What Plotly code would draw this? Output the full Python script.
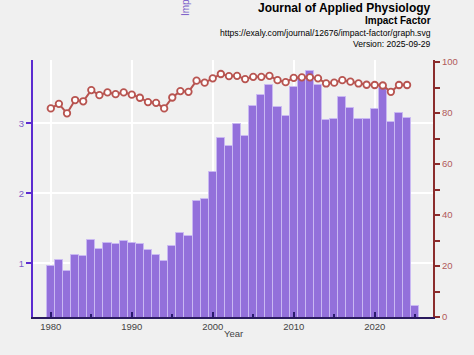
import plotly.graph_objects as go

years = list(range(1980, 2026))
impact_factor = [0.96, 1.05, 0.89, 1.12, 1.10, 1.34, 1.21, 1.29, 1.28, 1.32,
                 1.29, 1.27, 1.19, 1.12, 1.04, 1.25, 1.43, 1.39, 1.89, 1.92,
                 2.31, 2.79, 2.67, 2.99, 2.82, 3.24, 3.41, 3.55, 3.23, 3.10,
                 3.52, 3.64, 3.75, 3.54, 3.05, 3.06, 3.37, 3.22, 3.06, 3.06,
                 3.21, 3.50, 3.02, 3.14, 3.07, 0.39]
pct_years = list(range(1980, 2025))
percentile = [81.8, 83.6, 79.9, 85.1, 84.6, 89.0, 87.0, 88.1, 87.4, 88.1,
              87.2, 86.0, 84.3, 84.0, 81.8, 86.1, 88.6, 88.3, 92.7, 91.9,
              93.6, 95.3, 94.5, 94.6, 93.3, 94.2, 94.2, 94.6, 92.9, 92.1,
              93.8, 94.0, 94.0, 93.6, 91.6, 91.9, 92.9, 92.3, 91.6, 91.1,
              91.0, 90.8, 88.3, 91.0, 91.0]

FONT = "Liberation Sans, Arial, sans-serif"

fig = go.Figure()
fig.add_trace(go.Bar(
    x=years, y=impact_factor, yaxis="y",
    marker=dict(color="#9370DB", line=dict(color="#c9b8f2", width=1)),
    showlegend=False, hoverinfo="x+y"))
fig.add_trace(go.Scatter(
    x=pct_years, y=percentile, yaxis="y2", mode="lines+markers",
    line=dict(color="#b85450", width=2),
    marker=dict(symbol="circle", size=6.5, color="white",
                line=dict(color="#b85450", width=1.8)),
    showlegend=False))

fig.update_layout(
    width=474, height=355,
    margin=dict(l=33, r=41, t=60, b=38, autoexpand=False),
    paper_bgcolor="#f0f0f0", plot_bgcolor="#f0f0f0",
    font=dict(family=FONT, size=10, color="#444"),
    bargap=0,
    xaxis=dict(
        range=[1977.8, 2027.2], tickvals=[1980, 1990, 2000, 2010, 2020],
        ticks="inside", ticklen=5, tickwidth=2, tickcolor="#2a1a6e",
        minor=dict(tickvals=[1985, 1995, 2005, 2015, 2025], ticks="inside",
                   ticklen=3, tickwidth=2, tickcolor="#2a1a6e", showgrid=False),
        showgrid=True, gridcolor="white", gridwidth=1.5,
        showline=True, linecolor="#2a1a5e", linewidth=2,
        tickfont=dict(size=9.5, color="#444"),
        zeroline=False, automargin=False),
    yaxis=dict(
        range=[0.233, 3.904], tickvals=[1, 2, 3],
        ticks="outside", ticklen=5, tickwidth=2, tickcolor="#5b2bd0",
        showline=True, linecolor="#5b2bd0", linewidth=2,
        showgrid=True, gridcolor="white", gridwidth=1.5,
        tickfont=dict(size=9.5, color="#7a5cc8"), zeroline=False,
        automargin=False),
    yaxis2=dict(
        range=[0, 100.8], overlaying="y", side="right",
        tickvals=[0, 20, 40, 60, 80, 100],
        ticks="outside", ticklen=5, tickwidth=2, tickcolor="#8b2c2c",
        minor=dict(tickvals=[10, 30, 50, 70, 90], ticks="outside",
                   ticklen=5, tickwidth=2, tickcolor="#8b2c2c"),
        showline=True, linecolor="#8b2c2c", linewidth=2,
        showgrid=False, zeroline=False, automargin=False,
        tickfont=dict(size=9.5, color="#b05a5a")),
    annotations=[
        dict(text="<b>Journal of Applied Physiology</b>", xref="paper", yref="paper",
             x=1, y=1, xanchor="right", yanchor="middle", showarrow=False,
             yshift=52.5, font=dict(size=12, color="black")),
        dict(text="<b>Impact Factor</b>", xref="paper", yref="paper",
             x=1, y=1, xanchor="right", yanchor="middle", showarrow=False,
             yshift=40, font=dict(size=10, color="black")),
        dict(text="https://exaly.com/journal/12676/impact-factor/graph.svg",
             xref="paper", yref="paper", x=1, y=1, xanchor="right",
             yanchor="middle", showarrow=False, yshift=27,
             font=dict(size=8.6, color="black")),
        dict(text="Version: 2025-09-29", xref="paper", yref="paper",
             x=1, y=1, xanchor="right", yanchor="middle", showarrow=False,
             yshift=16, font=dict(size=8.6, color="black")),
        dict(text="Year", xref="paper", yref="paper", x=0.5, y=0,
             xanchor="center", yanchor="middle", showarrow=False,
             yshift=-16, font=dict(size=9.5, color="#444")),
        dict(text="Impact Factor", xref="paper", yref="paper",
             x=0.38, y=1, xanchor="center", yanchor="bottom", showarrow=False,
             textangle=-90, yshift=42, font=dict(size=10, color="#7a5cc8")),
    ],
)

fig.write_html("out.html", config={"displayModeBar": False},
               post_script="document.body.style.margin='0';")
